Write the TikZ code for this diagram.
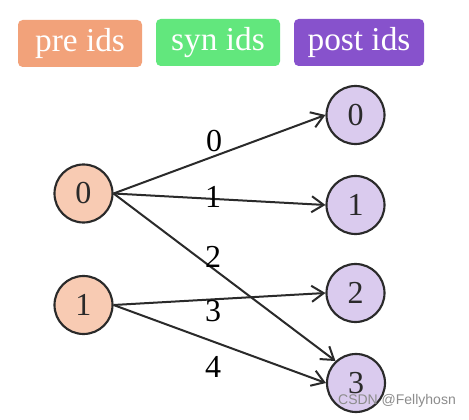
\documentclass[tikz,border=0pt]{standalone}
\usepackage{fontspec}
\setmainfont{Liberation Serif}
\newfontfamily\wmfont{Liberation Sans}
\usetikzlibrary{arrows.meta}
\definecolor{preBox}{HTML}{F2A27A}
\definecolor{synBox}{HTML}{62E77D}
\definecolor{postBox}{HTML}{8752CC}
\definecolor{preFill}{HTML}{F8CBB3}
\definecolor{postFill}{HTML}{DACBEE}
\definecolor{ink}{HTML}{2A2A2A}
\tikzset{
  legendbox/.style={rounded corners=3.5pt, text=white, inner sep=0pt,
    minimum height=35.25pt, font=\fontsize{25}{28}\selectfont},
  vert/.style={circle, draw=ink, line width=1.6pt, minimum size=43.5pt, inner sep=0pt,
    font=\fontsize{24}{26}\selectfont, text=ink},
  prenode/.style={vert, fill=preFill},
  postnode/.style={vert, fill=postFill},
  edge/.style={draw=ink, line width=1.5pt, -{Straight Barb[length=9pt, width=12pt, line width=1.5pt]}},
  lbl/.style={inner sep=0pt, font=\fontsize{24}{26}\selectfont, text=black},
}
\begin{document}
\begin{tikzpicture}[x=0.75pt, y=-0.75pt]
\useasboundingbox[fill=white] (0,0) rectangle (469,420);
% legend
\node[legendbox, fill=preBox, minimum width=93pt] (lpre) at (80,43.5) {pre ids};
\node[legendbox, fill=synBox, minimum width=93pt] (lsyn) at (218,42.5) {syn ids};
\node[legendbox, fill=postBox, minimum width=97.5pt] (lpost) at (359,42.5) {post ids};
% vertices
\node[prenode] (a0) at (83.5,193.5) {0};
\node[prenode] (a1) at (83.5,305) {1};
\node[postnode] (b0) at (355.5,115) {0};
\node[postnode] (b1) at (355.5,205) {1};
\node[postnode] (b2) at (355.5,293) {2};
\node[postnode] (b3) at (356,383) {3};
% edges
\draw[edge] (a0.east) -- (b0.west);
\draw[edge] (a0.east) -- (b1.west);
\draw[edge] (a0.east) -- (b3.133);
\draw[edge] (a1.east) -- (b2.west);
\draw[edge] (a1.east) -- (b3.west);
% labels
\node[lbl] (l0) at (214,141) {0};
\node[lbl] (l1) at (213,197) {1};
\node[lbl] (l2) at (213,257) {2};
\node[lbl] (l3) at (213,311) {3};
\node[lbl] (l4) at (213,367) {4};
% watermark
\node[inner sep=0pt, text=black!45, font=\wmfont\fontsize{10.5}{12}\selectfont] (wm) at (397,401) {CSDN @Fellyhosn};
\end{tikzpicture}
\end{document}
